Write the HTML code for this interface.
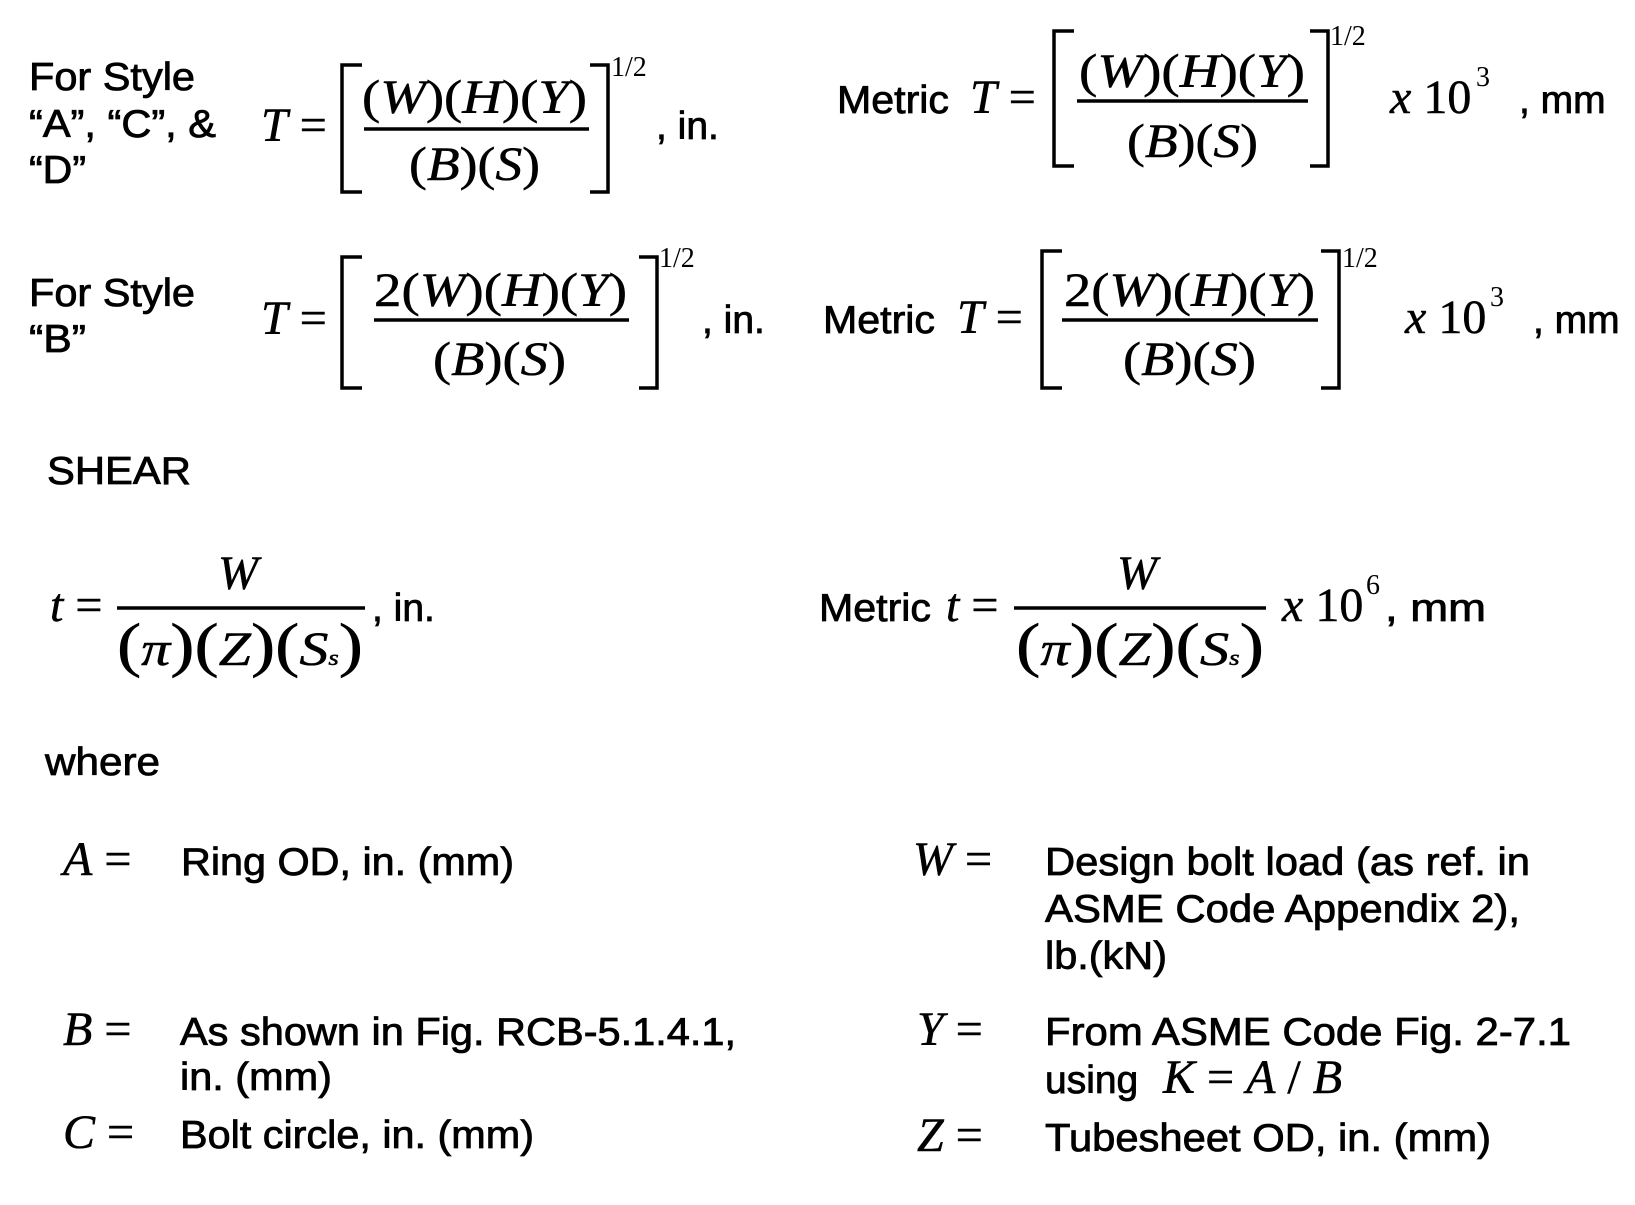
<!DOCTYPE html>
<html><head><meta charset="utf-8"><style>
html,body{margin:0;padding:0;background:#fff;}
svg{display:block;}
.s{font-family:"Liberation Sans",Arial,sans-serif;font-size:39px;fill:#000;stroke:#000;stroke-width:0.8;}
.m{font-family:"Liberation Serif","Times New Roman",serif;font-size:48px;fill:#000;stroke:#000;stroke-width:0.5;}
.i{font-style:italic;}
.sup{font-family:"Liberation Serif",serif;font-size:28px;}
</style></head><body>
<svg width="1635" height="1205" viewBox="0 0 1635 1205" xmlns="http://www.w3.org/2000/svg">
<g stroke="#000" stroke-width="3.5" fill="none">
<path d="M362 65 H342 V192 H362"/><path d="M590 65 H608 V192 H590"/>
<line x1="364" y1="129" x2="589" y2="129"/>
<path d="M1074 31 H1054 V166 H1074"/><path d="M1310 31 H1328 V166 H1310"/>
<line x1="1077" y1="101" x2="1308" y2="101"/>
<path d="M362 257 H342 V388 H362"/><path d="M639 257 H657 V388 H639"/>
<line x1="374" y1="320" x2="629" y2="320"/>
<path d="M1062 251 H1042 V388 H1062"/><path d="M1321 251 H1339 V388 H1321"/>
<line x1="1062" y1="320" x2="1318" y2="320"/>
<line x1="117" y1="608" x2="365" y2="608"/>
<line x1="1014" y1="608" x2="1266" y2="608"/>
</g>

<text class="s" x="29" y="90" textLength="166" lengthAdjust="spacingAndGlyphs">For Style</text>
<text class="s" x="29" y="137" textLength="187" lengthAdjust="spacingAndGlyphs">“A”, “C”, &amp;</text>
<text class="s" x="29" y="183" textLength="57" lengthAdjust="spacingAndGlyphs">“D”</text>
<text class="m" x="261" y="141"><tspan class="i">T</tspan> =</text>
<text class="m" x="362" y="113" textLength="225" lengthAdjust="spacingAndGlyphs">(<tspan class="i">W</tspan>)(<tspan class="i">H</tspan>)(<tspan class="i">Y</tspan>)</text>
<text class="m" x="409" y="180" textLength="131" lengthAdjust="spacingAndGlyphs">(<tspan class="i">B</tspan>)(<tspan class="i">S</tspan>)</text>
<text class="sup" x="611" y="76">1/2</text>
<text class="s" x="656" y="139">, in.</text>

<text class="s" x="837" y="113" textLength="112" lengthAdjust="spacingAndGlyphs">Metric</text>
<text class="m" x="970" y="113"><tspan class="i">T</tspan> =</text>
<text class="m" x="1079" y="87" textLength="226" lengthAdjust="spacingAndGlyphs">(<tspan class="i">W</tspan>)(<tspan class="i">H</tspan>)(<tspan class="i">Y</tspan>)</text>
<text class="m" x="1127" y="157" textLength="131" lengthAdjust="spacingAndGlyphs">(<tspan class="i">B</tspan>)(<tspan class="i">S</tspan>)</text>
<text class="sup" x="1330" y="45">1/2</text>
<text class="m" x="1390" y="113"><tspan class="i">x</tspan> 10</text>
<text class="sup" x="1476" y="86">3</text>
<text class="s" x="1519" y="113">, mm</text>

<text class="s" x="29" y="306" textLength="166" lengthAdjust="spacingAndGlyphs">For Style</text>
<text class="s" x="29" y="352" textLength="57" lengthAdjust="spacingAndGlyphs">“B”</text>
<text class="m" x="261" y="334"><tspan class="i">T</tspan> =</text>
<text class="m" x="374" y="306" textLength="253" lengthAdjust="spacingAndGlyphs">2(<tspan class="i">W</tspan>)(<tspan class="i">H</tspan>)(<tspan class="i">Y</tspan>)</text>
<text class="m" x="433" y="375" textLength="133" lengthAdjust="spacingAndGlyphs">(<tspan class="i">B</tspan>)(<tspan class="i">S</tspan>)</text>
<text class="sup" x="659" y="267">1/2</text>
<text class="s" x="702" y="333">, in.</text>

<text class="s" x="823" y="333" textLength="112" lengthAdjust="spacingAndGlyphs">Metric</text>
<text class="m" x="957" y="333"><tspan class="i">T</tspan> =</text>
<text class="m" x="1064" y="306" textLength="251" lengthAdjust="spacingAndGlyphs">2(<tspan class="i">W</tspan>)(<tspan class="i">H</tspan>)(<tspan class="i">Y</tspan>)</text>
<text class="m" x="1123" y="375" textLength="133" lengthAdjust="spacingAndGlyphs">(<tspan class="i">B</tspan>)(<tspan class="i">S</tspan>)</text>
<text class="sup" x="1342" y="267">1/2</text>
<text class="m" x="1405" y="333"><tspan class="i">x</tspan> 10</text>
<text class="sup" x="1490" y="306">3</text>
<text class="s" x="1533" y="333">, mm</text>

<text class="s" x="47" y="484" textLength="144" lengthAdjust="spacingAndGlyphs">SHEAR</text>
<text class="m" x="50" y="621"><tspan class="i">t</tspan> =</text>
<text class="m i" x="218" y="589">W</text>
<text class="m" x="117" y="665" textLength="246" lengthAdjust="spacingAndGlyphs"><tspan font-size="60">(</tspan><tspan class="i">π</tspan><tspan font-size="60">)(</tspan><tspan class="i">Z</tspan><tspan font-size="60">)(</tspan><tspan class="i">S</tspan><tspan class="i" font-size="22">s</tspan><tspan font-size="60">)</tspan></text>
<text class="s" x="372" y="621">, in.</text>

<text class="s" x="819" y="621" textLength="112" lengthAdjust="spacingAndGlyphs">Metric</text>
<text class="m" x="946" y="621"><tspan class="i">t</tspan> =</text>
<text class="m i" x="1117" y="589">W</text>
<text class="m" x="1016" y="665" textLength="248" lengthAdjust="spacingAndGlyphs"><tspan font-size="60">(</tspan><tspan class="i">π</tspan><tspan font-size="60">)(</tspan><tspan class="i">Z</tspan><tspan font-size="60">)(</tspan><tspan class="i">S</tspan><tspan class="i" font-size="22">s</tspan><tspan font-size="60">)</tspan></text>
<text class="m" x="1282" y="621"><tspan class="i">x</tspan> 10</text>
<text class="sup" x="1366" y="594">6</text>
<text class="s" x="1385" y="621" textLength="101" lengthAdjust="spacingAndGlyphs">, mm</text>

<text class="s" x="45" y="775" textLength="115" lengthAdjust="spacingAndGlyphs">where</text>

<text class="m" x="63" y="875"><tspan class="i">A</tspan> =</text>
<text class="s" x="181" y="875" textLength="333" lengthAdjust="spacingAndGlyphs">Ring OD, in. (mm)</text>

<text class="m" x="913" y="875"><tspan class="i">W</tspan> =</text>
<text class="s" x="1045" y="875" textLength="485" lengthAdjust="spacingAndGlyphs">Design bolt load (as ref. in</text>
<text class="s" x="1045" y="922" textLength="475" lengthAdjust="spacingAndGlyphs">ASME Code Appendix 2),</text>
<text class="s" x="1045" y="969" textLength="122" lengthAdjust="spacingAndGlyphs">lb.(kN)</text>

<text class="m" x="63" y="1045"><tspan class="i">B</tspan> =</text>
<text class="s" x="180" y="1045" textLength="556" lengthAdjust="spacingAndGlyphs">As shown in Fig. RCB-5.1.4.1,</text>
<text class="s" x="180" y="1090" textLength="152" lengthAdjust="spacingAndGlyphs">in. (mm)</text>

<text class="m" x="917" y="1045"><tspan class="i">Y</tspan> =</text>
<text class="s" x="1045" y="1045" textLength="526" lengthAdjust="spacingAndGlyphs">From ASME Code Fig. 2-7.1</text>
<text class="s" x="1045" y="1093">using</text>
<text class="m" x="1163" y="1093"><tspan class="i">K</tspan> = <tspan class="i">A</tspan> / <tspan class="i">B</tspan></text>

<text class="m" x="63" y="1148"><tspan class="i">C</tspan> =</text>
<text class="s" x="180" y="1148" textLength="354" lengthAdjust="spacingAndGlyphs">Bolt circle, in. (mm)</text>

<text class="m" x="917" y="1151"><tspan class="i">Z</tspan> =</text>
<text class="s" x="1045" y="1151" textLength="446" lengthAdjust="spacingAndGlyphs">Tubesheet OD, in. (mm)</text>
</svg>
</body></html>
